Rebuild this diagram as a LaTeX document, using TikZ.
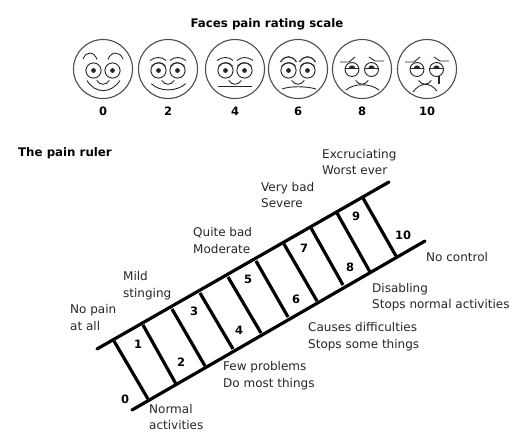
\documentclass[tikz,border=0pt]{standalone}
\usepackage{fontspec}
\setmainfont{DejaVu Sans}
\usepackage{tikz}
\usetikzlibrary{positioning,calc}
% shared parts of the faces, drawn around the centre of the current scope
\newcommand{\FaceEyes}{%
  \draw[feature] (-9.5,1.5) circle (7.6);
  \draw[feature] (9.5,1.5) circle (7.6);
  \fill[ink] (-9.5,1.5) circle (2.4);
  \fill[ink] (9.5,1.5) circle (2.4);
}
\newcommand{\FaceLids}{%
  \draw[feature] (-16.5,-3) .. controls (-12,-7.5) and (-6,-7.5) .. (-2.5,-3);
  \draw[feature] (2.5,-3) .. controls (6,-7.5) and (12,-7.5) .. (16.5,-3);
}
\newcommand{\FaceTired}{%
  \draw[feature] (-10,0.5) circle (7);
  \draw[feature] (9.5,0.5) circle (7);
  \draw[feature] (-17,-1) -- (-3,-1);
  \draw[feature] (2.5,-1) -- (16.5,-1);
  \fill[ink] (-13,-1) arc (180:360:3 and 2.6) -- cycle;
  \fill[ink] (6.5,-1) arc (180:360:3 and 2.6) -- cycle;
  \draw[feature] (-22,-7) -- (-13,-7) -- (-7,-12);
  \draw[feature] (7,-12) -- (13,-8) -- (22,-8);
}
\newcommand{\FaceNose}{%
  \draw[feature] (-6.3,11.5) .. controls (-3,16.5) and (3,16.5) .. (6.3,11.5);
}
\begin{document}
\begin{tikzpicture}[
    x=1pt,y=-1pt,
    ink/.style={black!85},
    feature/.style={draw=black!85,line width=0.9pt},
    head/.style={draw=black!70,line width=1.1pt,circle,minimum size=59pt,inner sep=0pt},
    score/.style={font=\fontsize{11.5}{13}\selectfont\bfseries,inner sep=0pt},
    title/.style={font=\fontsize{11.8}{13}\selectfont\bfseries,inner sep=0pt},
    remark/.style={font=\fontsize{12}{16.5}\selectfont,align=left,inner sep=0pt,text=black!85},
    rail/.style={line width=3.2pt,line cap=round,black},
    rung/.style={line width=3.2pt,black}
  ]
    \useasboundingbox (0,0) rectangle (525,440);
    \node[title] (facestitle) at (267,24) {Faces pain rating scale};
    \node[title,anchor=west] (rulertitle) at (18,153) {The pain ruler};

    % faces
    \node[head] (f0) at (103,69) {};
    \node[head] (f2) at (168,69) {};
    \node[head] (f4) at (235,69) {};
    \node[head] (f6) at (298,69) {};
    \node[head] (f8) at (362,69) {};
    \node[head] (f10) at (427,69) {};
    \node[score,below=8pt of f0] (s0) {0};
    \node[score,below=8pt of f2] (s2) {2};
    \node[score,below=8pt of f4] (s4) {4};
    \node[score,below=8pt of f6] (s6) {6};
    \node[score,below=8pt of f8] (s8) {8};
    \node[score,below=8pt of f10] (s10) {10};

    \begin{scope}[shift={(f0.center)}]
      \FaceEyes
      \FaceNose
      \draw[feature] (-20,-10) .. controls (-17,-18) and (-9,-18) .. (-6,-9.5);
      \draw[feature] (5,-9.5) .. controls (8,-18) and (17,-18) .. (20,-10);
      \draw[feature] (-16,11.5) .. controls (-8,25) and (8,25) .. (17,11.5);
    \end{scope}
    \begin{scope}[shift={(f2.center)}]
      \FaceEyes
      \FaceNose
      \FaceLids
      \draw[feature] (-18,-8.5) .. controls (-13,-12.5) and (-6,-12.5) .. (-2,-8.5);
      \draw[feature] (2,-8.5) .. controls (6,-12.5) and (13,-12.5) .. (18,-8.5);
      \draw[feature] (-16.7,14.7) .. controls (-8,23) and (8,23) .. (17.7,14.7);
    \end{scope}
    \begin{scope}[shift={(f4.center)}]
      \FaceEyes
      \FaceNose
      \FaceLids
      \draw[feature] (-18,-8.5) .. controls (-13,-12.5) and (-6,-12.5) .. (-2,-8.5);
      \draw[feature] (2,-8.5) .. controls (6,-12.5) and (13,-12.5) .. (18,-8.5);
      \draw[feature] (-16.7,17.7) -- (16.7,17.7);
    \end{scope}
    \begin{scope}[shift={(f6.center)}]
      \FaceEyes
      \FaceNose
      \FaceLids
      \draw[feature,line width=1.2pt] (-17.5,-7) .. controls (-13,-14) and (-6,-14) .. (-1.5,-7);
      \draw[feature,line width=1.2pt] (1.5,-7) .. controls (6,-14) and (13,-14) .. (17.5,-7);
      \draw[feature] (-16,20) .. controls (-8,17) and (8,17) .. (18,20);
    \end{scope}
    \begin{scope}[shift={(f8.center)}]
      \FaceTired
      \FaceNose
      \draw[feature] (-16,21) .. controls (-8,14) and (8,14) .. (17,21);
    \end{scope}
    \begin{scope}[shift={(f10.center)}]
      \FaceTired
      \begin{scope}[xshift=-2pt]
        \FaceNose
      \end{scope}
      \draw[feature,line width=1.8pt] (12,7) -- (12,15);
      \draw[feature] (-14,23) .. controls (-7,13) and (3,13) .. (10,22);
    \end{scope}

    % ladder
    \coordinate (upperstart) at (97,349);
    \coordinate (upperend) at (389,182);
    \coordinate (lowerstart) at (132,410);
    \coordinate (lowerend) at (425,241);
    \draw[rail] (upperstart) -- (upperend);
    \draw[rail] (lowerstart) -- (lowerend);
    \foreach \n/\tx/\ty/\bx/\by in {0/114/341/148/399,1/143/325/176/384,2/172/309/205/366,
        3/200/293/233/349,4/228/277/261/333,5/256/261/288/317,6/284/244/317/301,
        7/311/228/343/285,8/337/213/370/272,9/363/198/396/256}{
      \coordinate (top\n) at (\tx,\ty);
      \coordinate (bottom\n) at (\bx,\by);
      \draw[rung] (top\n) -- (bottom\n);
    }

    % numbers on the ladder
    \node[score] (n0) at (125,399) {0};
    \node[score] (n1) at (138,344) {1};
    \node[score] (n2) at (181,362) {2};
    \node[score] (n3) at (194,311) {3};
    \node[score] (n4) at (239,330) {4};
    \node[score] (n5) at (248,279) {5};
    \node[score] (n6) at (296,299) {6};
    \node[score] (n7) at (304,248) {7};
    \node[score] (n8) at (350,267) {8};
    \node[score] (n9) at (356,216) {9};
    \node[score] (n10) at (403,235) {10};

    % remarks
    \node[remark,anchor=north west] (r0) at (149,404) {Normal\\activities};
    \node[remark,anchor=north west] (r1) at (70,304.5) {No pain\\at all};
    \node[remark,anchor=north west] (r2) at (123,271.5) {Mild\\stinging};
    \node[remark,anchor=north west] (r3) at (223,361.5) {Few problems\\Do most things};
    \node[remark,anchor=north west] (r4) at (193,227.5) {Quite bad\\Moderate};
    \node[remark,anchor=north west] (r5) at (308,322.5) {Causes difficulties\\Stops some things};
    \node[remark,anchor=north west] (r6) at (261,182) {Very bad\\Severe};
    \node[remark,anchor=north west] (r7) at (372,283) {Disabling\\Stops normal activities};
    \node[remark,anchor=north west] (r8) at (322,149) {Excruciating\\Worst ever};
    \node[remark,anchor=west] (r9) at (426,257) {No control};
  \end{tikzpicture}
\end{document}
